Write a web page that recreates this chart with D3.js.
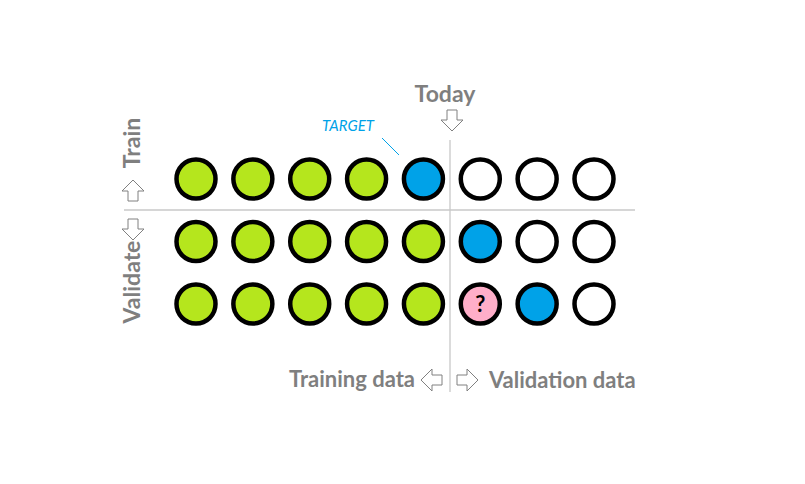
<!DOCTYPE html>
<html><head><meta charset="utf-8">
<script src="https://cdn.jsdelivr.net/npm/d3@7"></script>
<style>body{margin:0;background:#fff}</style></head>
<body><svg id="c" width="805" height="484"></svg>
<script>
const periods = [1,2,3,4,5,6,7,8];
const rowsNames = ["Train","Validate 1","Validate 2"];
// cell states per row: t=train data, g=target, q=unknown, e=empty
const rowTrain = ["t","t","t","t","g","e","e","e"];
const rowVal1  = ["t","t","t","t","t","g","e","e"];
const rowVal2  = ["t","t","t","t","t","q","g","e"];
const rows = [rowTrain,rowVal1,rowVal2];
const fills = {t:"#b5e61d", g:"#00a2e8", q:"#ffaec9", e:"#ffffff"};

const svg = d3.select("#c");
const x = d3.scaleLinear().domain([1,8]).range([196,594]);
const y = d3.scaleLinear().domain([0,2]).range([179,304]);
const gray="#7f7f7f", lineC="#c8c8c8";
const font="Lato, 'Open Sans', sans-serif";

// divider lines
svg.append("line").attr("x1",124).attr("x2",635).attr("y1",210).attr("y2",210).attr("stroke",lineC).attr("stroke-width",1.3);
svg.append("line").attr("x1",450).attr("x2",450).attr("y1",140).attr("y2",392).attr("stroke",lineC).attr("stroke-width",1.3);

rows.forEach((r,i)=>{
  svg.selectAll(null).data(r).enter().append("circle")
    .attr("cx",(d,j)=>x(periods[j])).attr("cy",y(i)).attr("r",19.5)
    .attr("fill",d=>fills[d]).attr("stroke","#000").attr("stroke-width",4.5);
  r.forEach((d,j)=>{ if(d==="q") svg.append("text").attr("x",x(periods[j])).attr("y",y(i)+8)
     .attr("text-anchor","middle").attr("font-family",font).attr("font-weight","bold").attr("font-size",22).text("?"); });
});

// hollow arrow: dir in degrees, pointing down at 0
function arrow(cx,cy,rot){
  svg.append("path").attr("d","M-5,-10 L5,-10 L5,0 L11,0 L0,11 L-11,0 L-5,0 Z")
   .attr("transform",`translate(${cx},${cy}) rotate(${rot})`)
   .attr("fill","#fff").attr("stroke","#808080").attr("stroke-width",1);
}
arrow(452,120,0);
arrow(133,191,180);
arrow(133,229,0);
arrow(432,380,90);
arrow(467,380,-90);

const T=(t,xx,yy,sz,anchor)=>svg.append("text").attr("x",xx).attr("y",yy).attr("text-anchor",anchor||"middle")
  .attr("font-family",font).attr("font-weight","bold").attr("font-size",sz).attr("fill",gray).text(t);
T("Today",445,102,23);
T("Training data",415,387,22,"end");
T("Validation data",489,388,22,"start");
svg.append("text").attr("transform","translate(140,143) rotate(-90)").attr("text-anchor","middle")
  .attr("font-family",font).attr("font-weight","bold").attr("font-size",23).attr("fill",gray).text("Train");
svg.append("text").attr("transform","translate(140,282) rotate(-90)").attr("text-anchor","middle")
  .attr("font-family",font).attr("font-weight","bold").attr("font-size",23).attr("fill",gray).text("Validate");

svg.append("text").attr("x",348).attr("y",131).attr("text-anchor","middle").attr("font-family",font)
  .attr("font-style","italic").attr("font-size",15).attr("fill","#00a2e8").text("TARGET");
svg.append("line").attr("x1",382).attr("y1",138).attr("x2",399).attr("y2",155).attr("stroke","#00a2e8").attr("stroke-width",1);
</script></body></html>
